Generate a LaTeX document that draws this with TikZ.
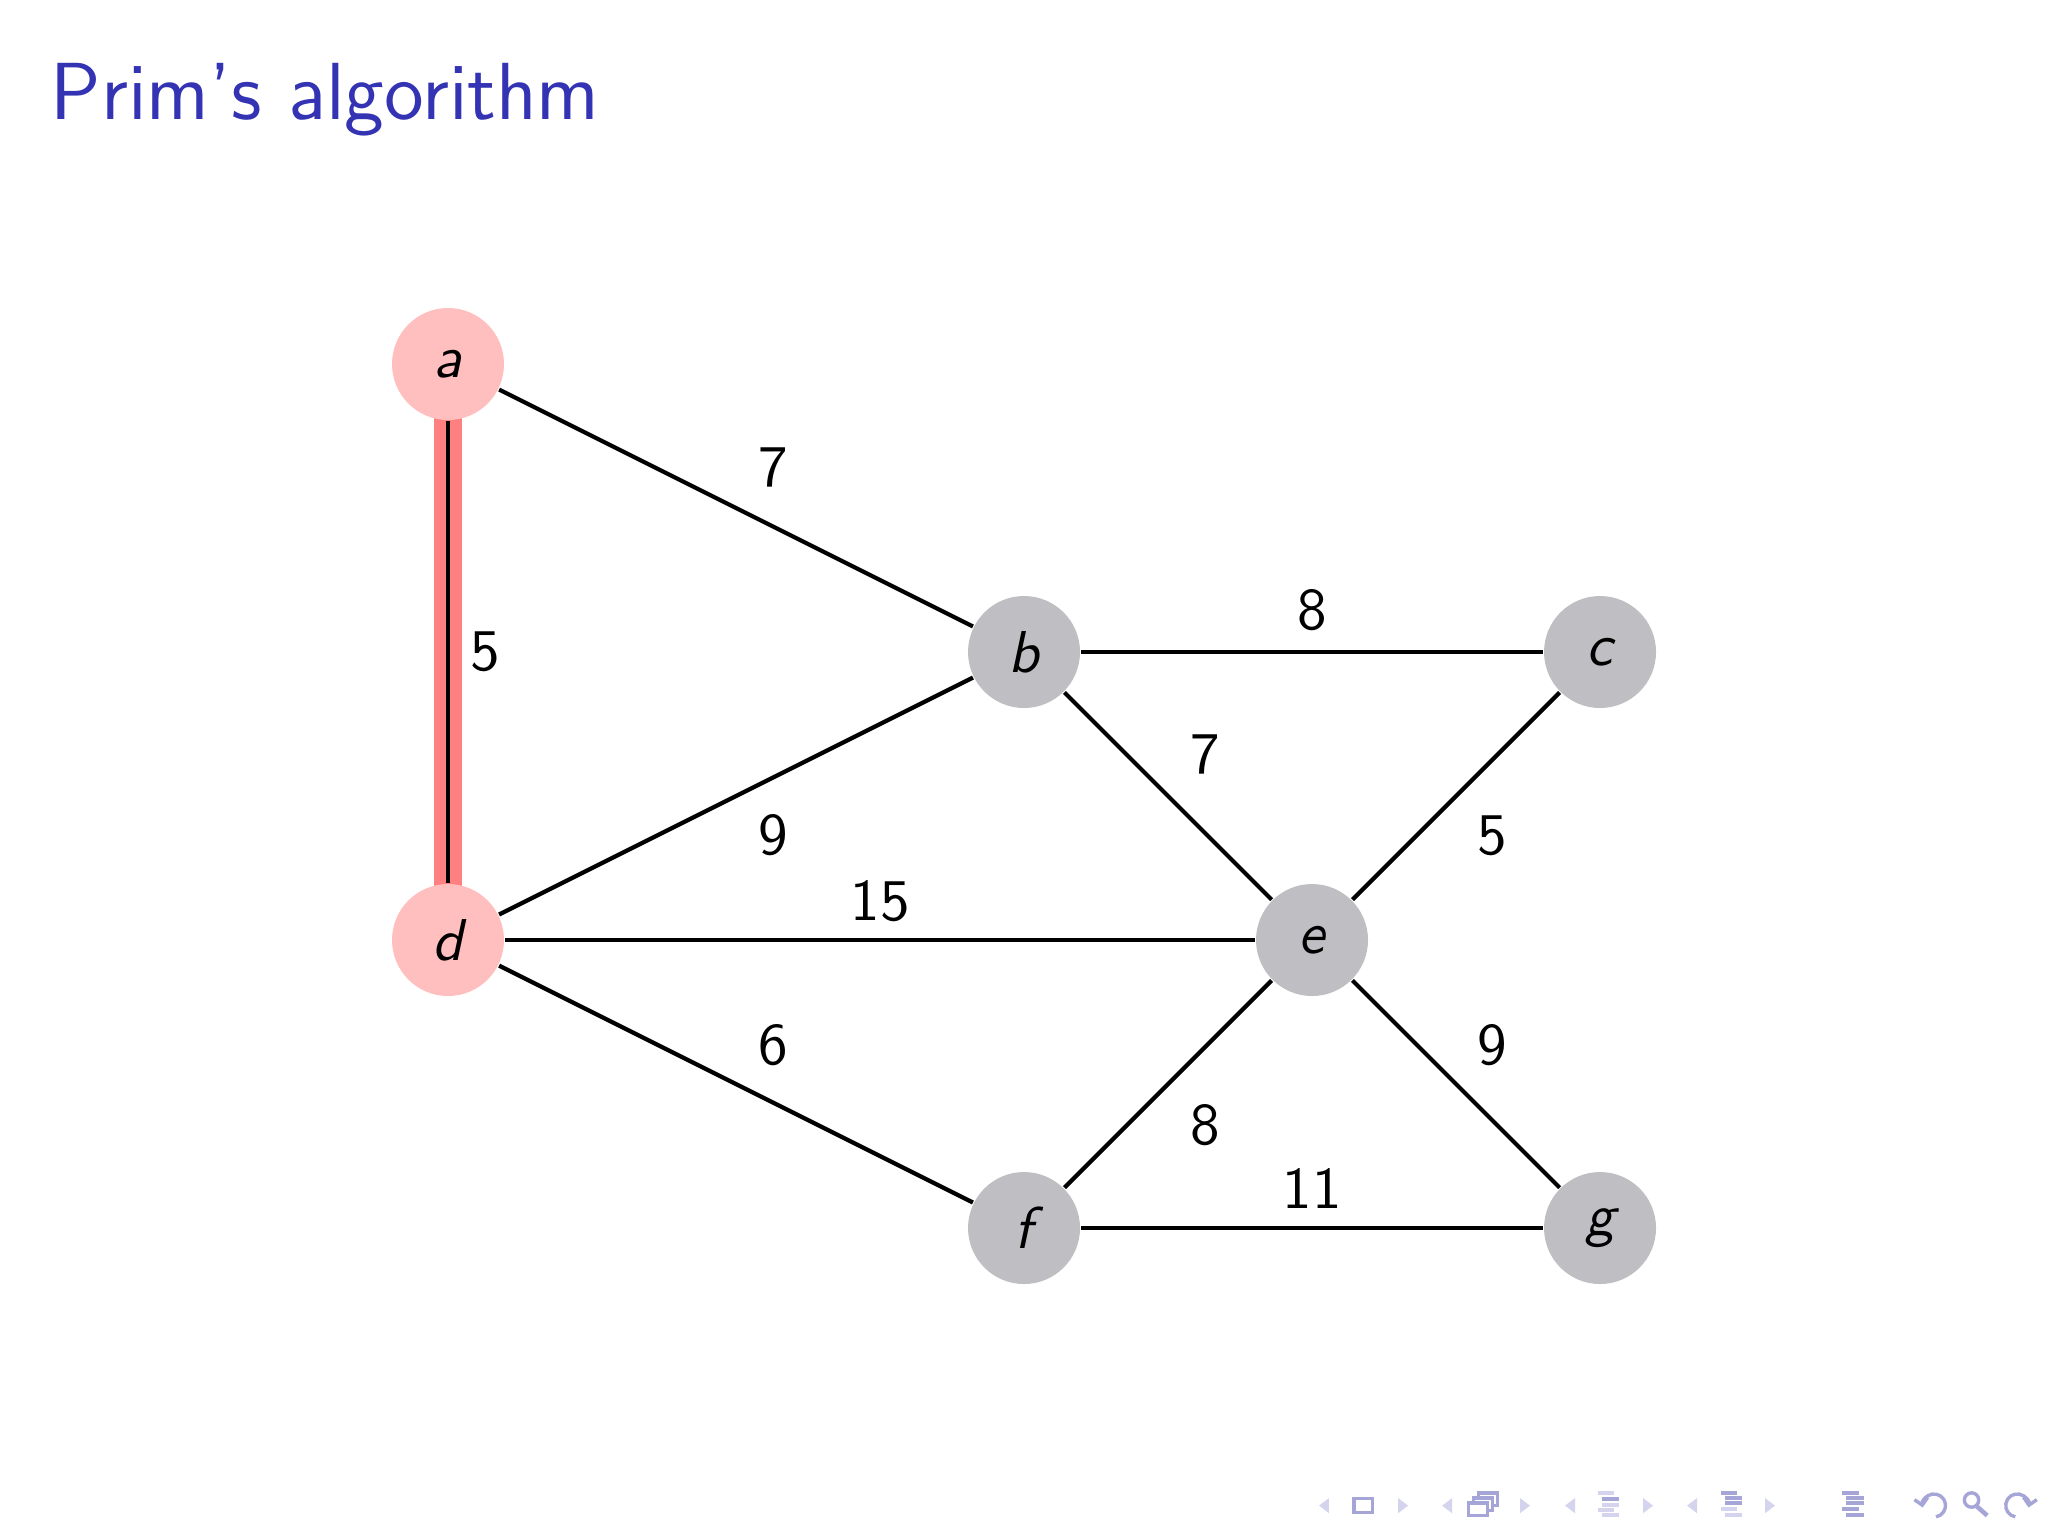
\documentclass[tikz,border=0pt]{standalone}
\usetikzlibrary{arrows.meta}
\definecolor{structure}{RGB}{51,51,179}
\definecolor{visited}{RGB}{255,191,191}
\definecolor{unvisited}{RGB}{191,190,195}
\definecolor{treeedge}{RGB}{255,128,128}
\definecolor{navlight}{RGB}{212,212,238}
\definecolor{navdark}{RGB}{165,165,215}
\pgfdeclarelayer{background}
\pgfdeclarelayer{bg}
\pgfsetlayers{background,bg,main}
\tikzset{
  vertex/.style={circle, minimum size=0.7cm, inner sep=0pt, font=\sffamily\itshape\fontsize{10.5}{12}\selectfont},
  seen/.style={vertex, fill=visited},
  unseen/.style={vertex, fill=unvisited},
  edgeline/.style={line width=0.75pt, black},
  mstline/.style={line width=5pt, treeedge, shorten <=-1pt, shorten >=-1pt},
  wlabel/.style={midway, inner sep=0pt, font=\sffamily\fontsize{10.5}{12}\selectfont},
  navtri/.style={fill=navlight},
  navbox/.style={draw=navdark, line width=0.6pt},
  navbar/.style={line width=0.7pt, navdark},
  navbarlight/.style={line width=0.7pt, navlight}
}
\begin{document}
\begin{tikzpicture}
\useasboundingbox (0,0) rectangle (12.8,9.6);
\begin{pgfonlayer}{background}
\fill[white] (0,0) rectangle (12.8,9.6);
\end{pgfonlayer}

% title
\node[anchor=base west, inner sep=0pt, text=structure, font=\sffamily\fontsize{14.4}{17}\selectfont] (title) at (0.31,8.856) {Prim's algorithm};

% vertices
\node[seen]   (a) at (2.8,7.325) {a};
\node[unseen] (b) at (6.4,5.525) {b};
\node[unseen] (c) at (10.0,5.525) {c};
\node[seen]   (d) at (2.8,3.725) {d};
\node[unseen] (e) at (8.2,3.725) {e};
\node[unseen] (f) at (6.4,1.925) {f};
\node[unseen] (g) at (10.0,1.925) {g};

% edges
\begin{pgfonlayer}{bg}
\draw[mstline] (a) -- (d);
\end{pgfonlayer}
\draw[edgeline] (a) -- (d) node[wlabel, xshift=0.23cm] {5};
\draw[edgeline] (a) -- (b) node[wlabel, xshift=0.23cm, yshift=0.255cm] {7};
\draw[edgeline] (b) -- (c) node[wlabel, yshift=0.26cm] {8};
\draw[edgeline] (b) -- (e) node[wlabel, xshift=0.23cm, yshift=0.26cm] {7};
\draw[edgeline] (d) -- (b) node[wlabel, xshift=0.23cm, yshift=-0.245cm] {9};
\draw[edgeline] (d) -- (e) node[wlabel, yshift=0.245cm] {15};
\draw[edgeline] (c) -- (e) node[wlabel, xshift=0.225cm, yshift=-0.25cm] {5};
\draw[edgeline] (d) -- (f) node[wlabel, xshift=0.23cm, yshift=0.245cm] {6};
\draw[edgeline] (e) -- (g) node[wlabel, xshift=0.225cm, yshift=0.245cm] {9};
\draw[edgeline] (e) -- (f) node[wlabel, xshift=0.23cm, yshift=-0.26cm] {8};
\draw[edgeline] (f) -- (g) node[wlabel, yshift=0.245cm] {11};

% navigation symbols
\foreach \x in {8.275,9.044,9.8125,10.575}
  \fill[navtri] (\x-0.031,0.19) -- (\x+0.031,0.237) -- (\x+0.031,0.143) -- cycle;
\foreach \x in {8.769,9.531,10.30,11.0625}
  \fill[navtri] (\x+0.031,0.19) -- (\x-0.031,0.237) -- (\x-0.031,0.143) -- cycle;
% frame box
\draw[navbox] (8.462,0.146) rectangle (8.578,0.235);
% stacked frames
\draw[navbox, fill=white] (9.241,0.190) rectangle (9.359,0.269);
\draw[navbox, fill=white] (9.210,0.159) rectangle (9.328,0.238);
\draw[navbox, fill=white] (9.179,0.128) rectangle (9.297,0.207);
% subsection icon
\draw[navbarlight] (9.985,0.267) -- (10.085,0.267);
\draw[navbar] (10.010,0.229) -- (10.120,0.229);
\draw[navbarlight] (10.010,0.194) -- (10.120,0.194);
\draw[navbarlight] (9.985,0.162) -- (10.085,0.162);
\draw[navbarlight] (10.010,0.131) -- (10.120,0.131);
% section icon
\draw[navbar] (10.755,0.267) -- (10.855,0.267);
\draw[navbar] (10.780,0.236) -- (10.890,0.236);
\draw[navbar] (10.780,0.204) -- (10.890,0.204);
\draw[navbarlight] (10.755,0.167) -- (10.855,0.167);
\draw[navbarlight] (10.780,0.131) -- (10.890,0.131);
% presentation icon
\draw[navbar] (11.515,0.267) -- (11.620,0.267);
\draw[navbar] (11.540,0.236) -- (11.650,0.236);
\draw[navbar] (11.540,0.204) -- (11.650,0.204);
\draw[navbar] (11.515,0.167) -- (11.620,0.167);
\draw[navbar] (11.540,0.131) -- (11.650,0.131);
% back, search, forward
\draw[navdark, line width=0.6pt, -{Straight Barb[length=1.2pt]}] (12.10,0.120) arc (-80:190:0.072);
\draw[navdark, line width=0.6pt] (12.322,0.225) circle (0.045);
\draw[navdark, line width=0.8pt] (12.352,0.188) -- (12.420,0.128);
\draw[navdark, line width=0.6pt, -{Straight Barb[length=1.2pt]}] (12.595,0.120) arc (260:-10:0.072);
\end{tikzpicture}
\end{document}
